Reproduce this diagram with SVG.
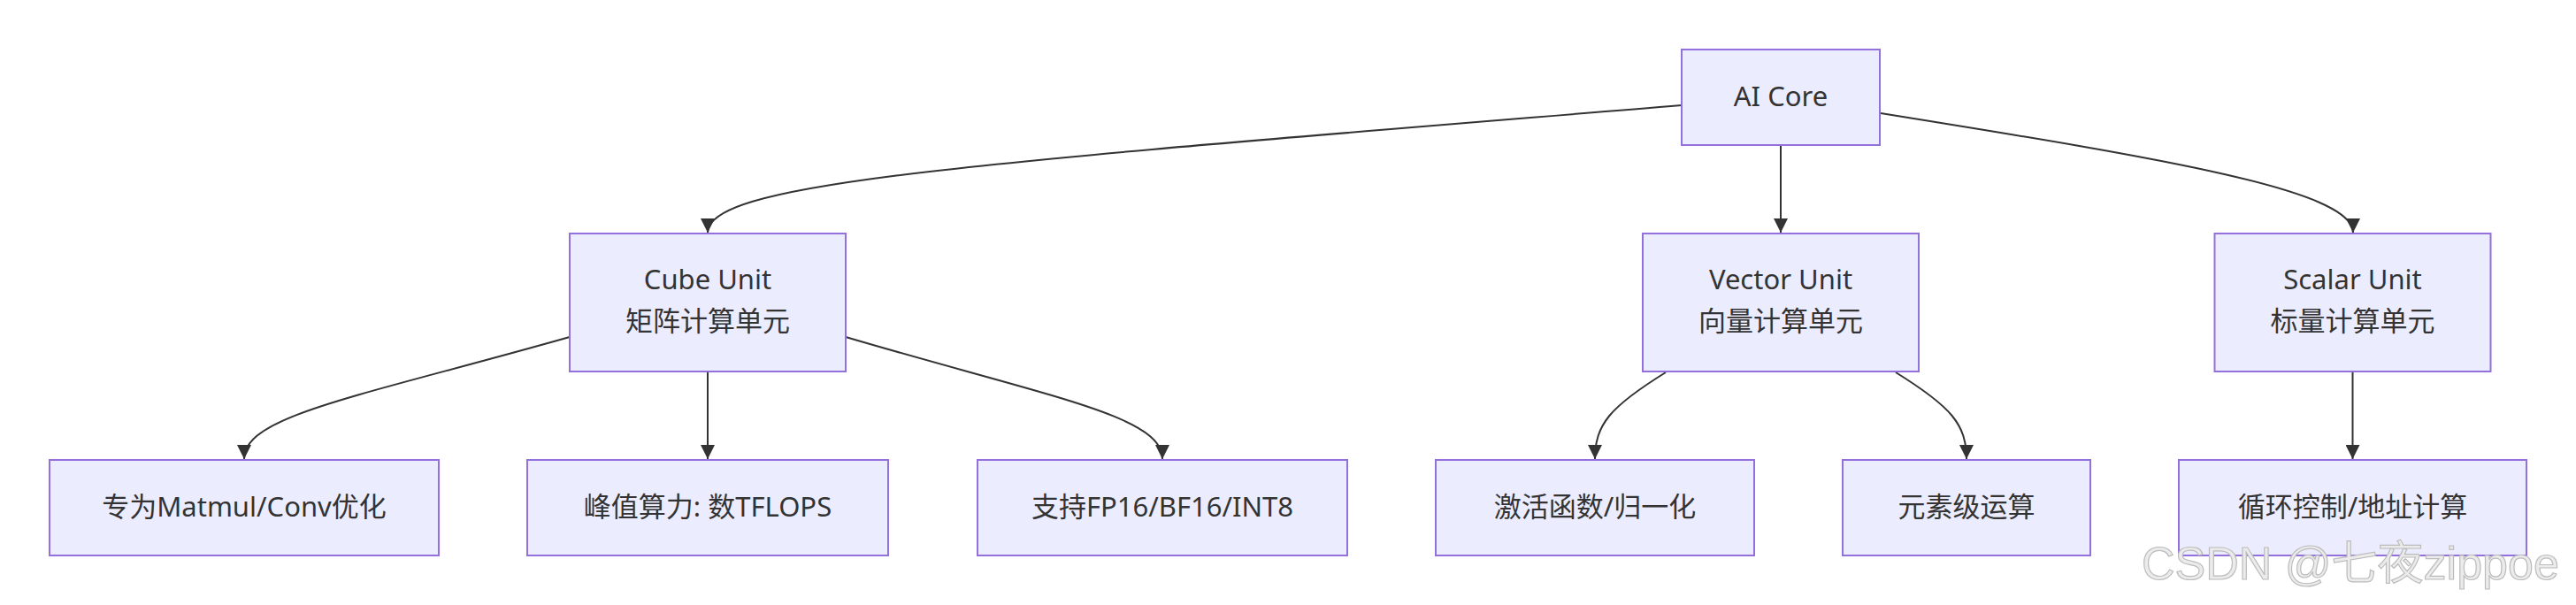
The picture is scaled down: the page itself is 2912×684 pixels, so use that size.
<svg xmlns="http://www.w3.org/2000/svg" width="2912" height="684" viewBox="0 0 2912 684">
<style>
.node rect{fill:#ECECFF;stroke:#9370DB;stroke-width:2}
.node text{font-family:"Noto Sans","Noto Sans CJK SC",sans-serif;font-size:31px;fill:#333;text-anchor:middle}
.edges path{fill:none;stroke:#333;stroke-width:2}
.wm{font-family:"Liberation Sans","Noto Sans CJK SC",sans-serif;font-size:52px;fill:#ebebeb;stroke:#bcbcbc;stroke-width:1.2}
</style>
<defs>
<marker id="arr" viewBox="0 0 10 10" refX="10" refY="5" markerUnits="userSpaceOnUse" markerWidth="16" markerHeight="16" orient="auto">
<path d="M0,0 L10,5 L0,10 z" fill="#333"/>
</marker>
</defs>
<rect width="2912" height="684" fill="#fff"/>
<g class="edges">
<path d="M1901,119 C1100,185 800,205 800,263" marker-end="url(#arr)"/>
<path d="M2013,164 L2013,263" marker-end="url(#arr)"/>
<path d="M2126,128 C2450,180 2660,215 2660,263" marker-end="url(#arr)"/>
<path d="M644,381 C400,450 276,470 276,519" marker-end="url(#arr)"/>
<path d="M800,420 L800,519" marker-end="url(#arr)"/>
<path d="M956,381 C1190,450 1314,470 1314,519" marker-end="url(#arr)"/>
<path d="M1883,421 C1820,460 1803,480 1803,519" marker-end="url(#arr)"/>
<path d="M2143,421 C2206,460 2223,480 2223,519" marker-end="url(#arr)"/>
<path d="M2659.5,420 L2659.5,519" marker-end="url(#arr)"/>
</g>
<g id="aicore" class="node"><rect x="1901" y="56" width="224" height="108"/><text x="2013" y="120">AI Core</text></g>
<g id="cube" class="node"><rect x="644" y="264" width="312" height="156"/><text x="800" y="327">Cube Unit</text><text x="800" y="374">矩阵计算单元</text></g>
<g id="vector" class="node"><rect x="1857" y="264" width="312" height="156"/><text x="2013" y="327">Vector Unit</text><text x="2013" y="374">向量计算单元</text></g>
<g id="scalar" class="node"><rect x="2503.5" y="264" width="312" height="156"/><text x="2659.5" y="327">Scalar Unit</text><text x="2659.5" y="374">标量计算单元</text></g>
<g id="matmul" class="node"><rect x="56" y="520" width="440" height="108"/><text x="276" y="584">专为Matmul/Conv优化</text></g>
<g id="peak" class="node"><rect x="596" y="520" width="408" height="108"/><text x="800" y="584">峰值算力: 数TFLOPS</text></g>
<g id="fp16" class="node"><rect x="1105" y="520" width="418" height="108"/><text x="1314" y="584">支持FP16/BF16/INT8</text></g>
<g id="act" class="node"><rect x="1623" y="520" width="360" height="108"/><text x="1803" y="584">激活函数/归一化</text></g>
<g id="elem" class="node"><rect x="2083" y="520" width="280" height="108"/><text x="2223" y="584">元素级运算</text></g>
<g id="loop" class="node"><rect x="2463" y="520" width="393" height="108"/><text x="2659.5" y="584">循环控制/地址计算</text></g>
<text class="wm" x="2421" y="655">CSDN @七夜zippoe</text>
</svg>
